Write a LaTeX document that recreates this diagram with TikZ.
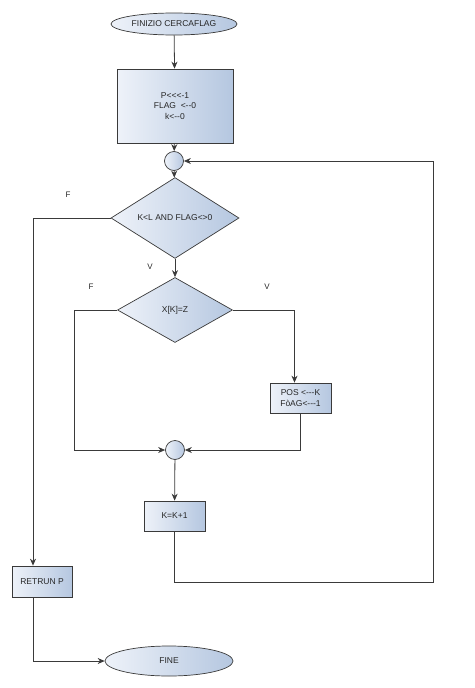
\documentclass[tikz,border=0pt]{standalone}
\usepackage{fontspec}
\setmainfont{Liberation Sans}
\usetikzlibrary{shapes.geometric,arrows.meta}
\definecolor{edge}{HTML}{3A3A3A}
\definecolor{fillA}{HTML}{EEF2F9}
\definecolor{fillB}{HTML}{B5C7E0}
\begin{document}
\begin{tikzpicture}[x=1pt,y=-1pt, font=\fontsize{8.5}{10.5}\selectfont,
  shp/.style={draw=edge, line width=0.7pt, left color=fillA, right color=fillB, inner sep=0pt, align=center, text=black!85},
  proc/.style={shp, rectangle},
  term/.style={shp, ellipse},
  dec/.style={shp, diamond},
  junc/.style={shp, circle, minimum size=19pt},
  flow/.style={draw=edge, line width=0.8pt},
  arr/.style={flow, -{Stealth[length=7pt,width=6pt]}},
  lbl/.style={font=\fontsize{8}{9}\selectfont, text=black!85}]
\useasboundingbox (0,0) rectangle (474,688);
\node[term, minimum width=126pt, minimum height=22pt] (start) at (174,24) {FINIZIO CERCAFLAG};
\node[proc, minimum width=116pt, minimum height=74pt] (init) at (175,106) {P<{}<{}<{}-1\\FLAG\ \ <{}-{}-0\\k<{}-{}-0};
\node[junc] (j1) at (174,161) {};
\node[dec, minimum width=128pt, minimum height=72pt] (d1) at (175,218) {K<L AND FLAG<{}>0};
\node[dec, minimum width=115pt, minimum height=65pt] (d2) at (175,310) {X[K]=Z};
\node[proc, minimum width=61pt, minimum height=30pt] (pos) at (300.5,398) {POS <{}-{}-{}-K\\FòAG<{}-{}-{}-1};
\node[junc] (j2) at (175,450) {};
\node[proc, minimum width=61pt, minimum height=30pt] (inc) at (174.5,516) {K=K+1};
\node[proc, minimum width=60pt, minimum height=31pt] (ret) at (42,581.5) {RETRUN P};
\node[term, minimum width=128pt, minimum height=30pt] (fine) at (169,661) {FINE};
\node[lbl] (lf1) at (68,195) {F};
\node[lbl] (lv1) at (150,267) {V};
\node[lbl] (lf2) at (91,287) {F};
\node[lbl] (lv2) at (267,287) {V};
\draw[arr] (start) -- (init);
\draw[arr] (init) -- (j1);
\draw[arr] (j1) -- (d1);
\draw[arr] (d1) -- (d2);
\draw[arr] (d1.west) -| ([xshift=-9pt]ret.north);
\draw[arr] (d2.east) -| ([xshift=-6pt]pos.north);
\draw[arr] (d2.west) -- ++(-43,0) |- (j2);
\draw[arr] (pos.south) |- (j2);
\draw[arr] (j2) -- (inc);
\draw[arr] (inc.south) -- ++(0,51) -- ++(258.5,0) |- (j1);
\draw[arr] ([xshift=-9pt]ret.south) |- (fine);
\end{tikzpicture}
\end{document}
